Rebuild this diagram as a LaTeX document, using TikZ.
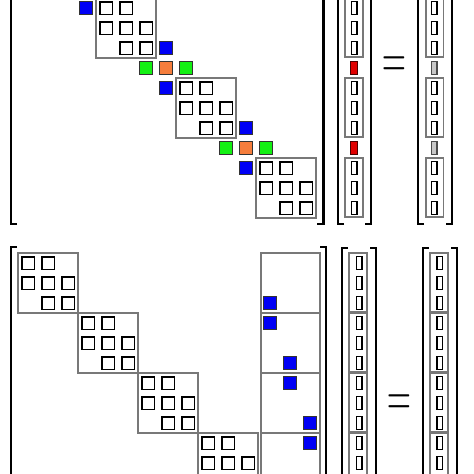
\documentclass[tikz,border=0pt]{standalone}
\usepackage{graphicx}
\definecolor{cblue}{RGB}{0,0,245}
\definecolor{cgreen}{RGB}{20,240,20}
\definecolor{corange}{RGB}{245,125,60}
\definecolor{cred}{RGB}{225,0,0}
\definecolor{cgray}{RGB}{200,200,200}
\definecolor{boxgray}{RGB}{120,120,120}
\tikzset{
  cellw/.style={draw=black, line width=1.5pt, fill=white},
  bluec/.style={draw=black!80, line width=1pt, fill=cblue},
  greenc/.style={draw=black!80, line width=1pt, fill=cgreen},
  orangec/.style={draw=black!80, line width=1pt, fill=corange},
  blockbox/.style={draw=boxgray, line width=1.1pt},
  vrect/.style={draw=black, line width=1.3pt, fill=white},
  vred/.style={draw=black!70!red, line width=1pt, fill=cred},
  vgray/.style={draw=black!70, line width=1.2pt, fill=cgray},
  brk/.style={draw=black, line width=2.4pt},
  eqsign/.style={inner sep=0pt}
}
\newcommand\tsq[3]{\draw[#1] ({79+20*(#2)+0.75},{1+20*(#3)+0.75}) rectangle ++(12.5,12.5);}
\newcommand\bsq[3]{\draw[#1] ({#2+0.75},{#3+0.75}) rectangle ++(12.5,12.5);}
\begin{document}
\begin{tikzpicture}[x=1pt,y=-1pt]
\useasboundingbox (0,0) rectangle (474,474);
\clip (0,0) rectangle (474,474);
\fill[white] (0,0) rectangle (474,474);
% ================= TOP =================
\foreach \k in {0,1,2}{
  \draw[blockbox] ({79+20*(4*\k+1)-3},{1+20*(4*\k)-3}) rectangle ({79+20*(4*\k+3)+17},{1+20*(4*\k+2)+17});
  \foreach \c/\r in {1/0,2/0,1/1,2/1,3/1,2/2,3/2}{
    \tsq{cellw}{4*\k+\c}{4*\k+\r}
  }
  \tsq{bluec}{4*\k}{4*\k}
}
\foreach \k in {0,1}{
  \tsq{bluec}{4*\k+4}{4*\k+2}
  \tsq{greenc}{4*\k+3}{4*\k+3}
  \tsq{orangec}{4*\k+4}{4*\k+3}
  \tsq{greenc}{4*\k+5}{4*\k+3}
}
% matrix brackets
\draw[brk] (17,224) -- (11,224) -- (11,-5);
\draw[brk] (317,224) -- (323.5,224) -- (323.5,-5);
% vector x
\foreach \k in {0,1,2}{
  \draw[blockbox] (345,{1+80*\k-3}) rectangle (363,{1+80*\k+56});
  \draw[blockbox] (426,{1+80*\k-3}) rectangle (443.5,{1+80*\k+56});
  \foreach \r in {0,1,2}{
    \draw[vrect] (351.6,{1+80*\k+20*\r+0.7}) rectangle ++(5.4,12.8);
    \draw[vrect] (431.6,{1+80*\k+20*\r+0.7}) rectangle ++(5.4,12.8);
  }
}
\foreach \r in {3,7}{
  \draw[vred] (350.8,{1+20*\r+0.3}) rectangle ++(6.4,13.4);
  \draw[vgray] (431.6,{1+20*\r+0.7}) rectangle ++(5.4,12.8);
}
\draw[brk] (344,224) -- (338,224) -- (338,-5);
\draw[brk] (365,224) -- (371,224) -- (371,-5);
\draw[brk] (424,224) -- (418,224) -- (418,-5);
\draw[brk] (446,224) -- (452,224) -- (452,-5);
\node[eqsign] (eqtop) at (394,68) {\scalebox{1}[1.85]{\fontsize{33pt}{33pt}\selectfont =}};
% ================= BOTTOM =================
\foreach \j in {0,1,2,3}{
  \draw[blockbox] ({18+60*\j},{253+60*\j}) rectangle ({78+60*\j},{313+60*\j});
  \foreach \c/\r in {0/0,1/0,0/1,1/1,2/1,1/2,2/2}{
    \bsq{cellw}{21+60*\j+20*\c}{256+60*\j+20*\r}
  }
  \draw[blockbox] (261,{253+60*\j}) rectangle (320,{313+60*\j});
  % vectors
  \draw[blockbox] (349,{253+60*\j}) rectangle (367,{312+60*\j});
  \draw[blockbox] (430,{253+60*\j}) rectangle (448,{312+60*\j});
  \foreach \r in {0,1,2}{
    \draw[vrect] (356.6,{256+60*\j+20*\r+0.7}) rectangle ++(5.4,12.8);
    \draw[vrect] (436.9,{256+60*\j+20*\r+0.7}) rectangle ++(5.4,12.8);
  }
}
\foreach \j in {1,2,3}{
  \bsq{bluec}{263+20*(\j-1)}{256+60*\j}
}
\foreach \j in {0,1,2}{
  \bsq{bluec}{263+20*\j}{296+60*\j}
}
\draw[brk] (17,247) -- (11,247) -- (11,480);
\draw[brk] (320,247) -- (326,247) -- (326,480);
\draw[brk] (348,248) -- (342,248) -- (342,480);
\draw[brk] (370,248) -- (376,248) -- (376,480);
\draw[brk] (429,248) -- (423,248) -- (423,480);
\draw[brk] (451,248) -- (457,248) -- (457,480);
\node[eqsign] (eqbot) at (399.5,406) {\scalebox{1}[1.85]{\fontsize{33pt}{33pt}\selectfont =}};
\end{tikzpicture}
\end{document}
